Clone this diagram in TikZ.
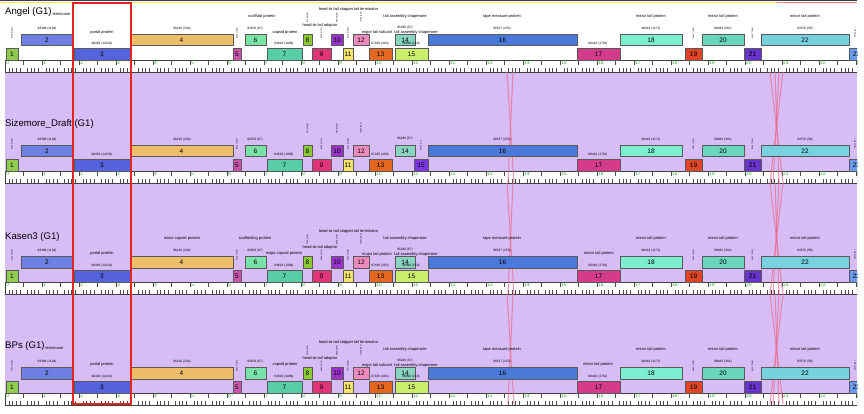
\documentclass[tikz,border=0pt]{standalone}
\usepackage{fontspec}
\setmainfont{Liberation Sans}
\definecolor{c1}{HTML}{8FCB4F}
\definecolor{c2}{HTML}{6E80E3}
\definecolor{c3}{HTML}{5563DD}
\definecolor{c4}{HTML}{EEBD6A}
\definecolor{c5}{HTML}{C955A8}
\definecolor{c6}{HTML}{78E2A8}
\definecolor{c7}{HTML}{57CDA8}
\definecolor{c8}{HTML}{8CCB35}
\definecolor{c9}{HTML}{DF3477}
\definecolor{c10}{HTML}{9A33CC}
\definecolor{c11}{HTML}{F4E26A}
\definecolor{c12}{HTML}{EE8BBE}
\definecolor{c13}{HTML}{E5661F}
\definecolor{c14}{HTML}{8AD5C2}
\definecolor{c15}{HTML}{CBEE6A}
\definecolor{c15s}{HTML}{7B35E2}
\definecolor{c16}{HTML}{4B79D9}
\definecolor{c17}{HTML}{D43C8B}
\definecolor{c18}{HTML}{7BEFCF}
\definecolor{c19}{HTML}{DD4524}
\definecolor{c20}{HTML}{69D6BD}
\definecolor{c21}{HTML}{6634CB}
\definecolor{c22}{HTML}{78D1DF}
\definecolor{c23}{HTML}{6A9AEC}
\definecolor{bgpurple}{HTML}{D8BCF6}
\definecolor{redbox}{HTML}{E3261F}
\definecolor{connpink}{HTML}{E8708F}
\definecolor{rulegreen}{HTML}{3AA43A}
\definecolor{topyellow}{HTML}{F3E45A}
\definecolor{topsalmon}{HTML}{F08A7A}
\tikzset{
  genebox/.style={draw=black!65, line width=0.5pt, inner sep=0pt, minimum height=11.5pt, font=\fontsize{6.5}{7}\selectfont},
  fnlab/.style={inner sep=0pt, font=\fontsize{4}{4.5}\selectfont},
  phlab/.style={inner sep=0pt, font=\fontsize{3.2}{3.6}\selectfont},
  vlab/.style={inner sep=0pt, rotate=90, font=\fontsize{2}{2.4}\selectfont},
  gtitle/.style={anchor=west, inner sep=0pt, font=\fontsize{9.6}{11}\selectfont},
  rulerframe/.style={draw=black!75, fill=white, line width=0.6pt, inner sep=0pt, anchor=north west, minimum width=852pt, minimum height=12pt},
  tickmark/.style={draw=black!70, line width=0.4pt},
  rulernum/.style={anchor=north west, inner sep=0pt, text=rulegreen, font=\fontsize{5}{5.5}\selectfont},
  conn/.style={draw=connpink, line width=1.1pt, opacity=0.7},
  redframe/.style={draw=redbox, line width=2pt},
}
\newcommand{\mygene}[7]{%
  \pgfmathsetmacro\gw{#3-#2}\pgfmathsetmacro\gx{(#2+#3)/2}\pgfmathsetmacro\gy{#4-#5}%
  \node[genebox,fill=#6,minimum width=\gw pt] (#1) at (\gx,\gy) {#7};}
\newcommand{\fl}[4]{\node[fnlab] (#1) at (#2,#3) {#4};}
\newcommand{\pl}[4]{\node[phlab] (#1) at (#2,#3) {#4};}
\newcommand{\vl}[4]{\node[vlab] (#1) at (#2,#3) {#4};}
\newcommand{\myruler}[2]{%
  \node[rulerframe] (#1) at (5,#2) {};
  \foreach \i in {0,...,230}{%
    \pgfmathtruncatemacro\rr{mod(\i,5)}%
    \ifnum\rr=0 \draw[tickmark] (5+3.7*\i,#2) -- (5+3.7*\i,#2+5);%
    \else \draw[tickmark] (5+3.7*\i,#2+12) -- (5+3.7*\i,#2+8);\fi}
  \foreach \k in {0,...,23}{\node[rulernum] (#1n\k) at (5.9+37*\k,#2+0.8) {\k};}
}
\newcommand{\stdgenes}[4]{%
  \mygene{#1g1}{6}{18}{#2}{5.75}{c1}{1}
  \mygene{#1g2}{21}{73}{#2}{20}{c2}{2}
  \mygene{#1g3}{74}{130}{#2}{5.75}{c3}{3}
  \mygene{#1g4}{130}{233}{#2}{20}{c4}{4}
  \mygene{#1g5}{233}{241}{#2}{5.75}{c5}{5}
  \mygene{#1g6}{245}{266}{#2}{20}{c6}{6}
  \mygene{#1g7}{267}{302}{#2}{5.75}{c7}{7}
  \mygene{#1g8}{303}{312}{#2}{20}{c8}{8}
  \mygene{#1g9}{312}{331}{#2}{5.75}{c9}{9}
  \mygene{#1g10}{331}{343}{#2}{20}{c10}{10}
  \mygene{#1g11}{343}{353}{#2}{5.75}{c11}{11}
  \mygene{#1g12}{353}{369}{#2}{20}{c12}{12}
  \mygene{#1g13}{369}{392}{#2}{5.75}{c13}{13}
  \mygene{#1g14}{395}{415}{#2}{20}{c14}{14}
  \mygene{#1g15}{#3}{428}{#2}{5.75}{#4}{15}
  \mygene{#1g16}{428}{577}{#2}{20}{c16}{16}
  \mygene{#1g17}{577}{620}{#2}{5.75}{c17}{17}
  \mygene{#1g18}{620}{682}{#2}{20}{c18}{18}
  \mygene{#1g19}{685}{702}{#2}{5.75}{c19}{19}
  \mygene{#1g20}{702}{744}{#2}{20}{c20}{20}
  \mygene{#1g21}{744}{761}{#2}{5.75}{c21}{21}
  \mygene{#1g22}{761}{849}{#2}{20}{c22}{22}
  \mygene{#1g23}{849}{864}{#2}{5.75}{c23}{23}
}
\newcommand{\stdpham}[2]{%
  \pl{#1p2}{47}{#2-31}{93398 (1194)}
  \pl{#1p3}{102}{#2-16}{98436 (14201)}
  \pl{#1p4}{182}{#2-31}{96216 (204)}
  \pl{#1p6}{255}{#2-31}{93878 (67)}
  \pl{#1p7}{284}{#2-16}{84626 (1099)}
  \pl{#1p13}{380}{#2-16}{87436 (463)}
  \pl{#1p14}{405}{#2-32}{95280 (67)}
  \pl{#1p16}{502}{#2-31}{96527 (253)}
  \pl{#1p17}{598}{#2-16}{98442 (1762)}
  \pl{#1p18}{651}{#2-31}{98443 (1171)}
  \pl{#1p20}{723}{#2-31}{98483 (361)}
  \pl{#1p22}{805}{#2-31}{93576 (58)}
  \vl{#1v1}{12}{#2-27}{97928 (265)}
  \vl{#1v5}{237}{#2-27}{93307 (265)}
  \vl{#1v8}{307.5}{#2-42.5}{97085 (66)}
  \vl{#1v9}{321.5}{#2-27}{94906 (717)}
  \vl{#1v10}{337}{#2-42.5}{96996 (95)}
  \vl{#1v11}{348}{#2-27}{97018 (298)}
  \vl{#1v12}{361}{#2-42.5}{71050 (281)}
  \vl{#1v19}{693.5}{#2-27}{95817 (452)}
  \vl{#1v21}{752.5}{#2-27}{93197 (306)}
  \vl{#1v23}{855}{#2-27}{93116 (61)}
}
\newcommand{\headtail}[2]{%
  \fl{#1f8a}{336}{#2-51}{head-to-tail stopper}
  \fl{#1f8b}{366}{#2-51}{tail terminator}
  \fl{#1f8c}{320}{#2-35}{head-to-tail adaptor}
  \fl{#1f14}{405}{#2-44}{tail assembly chaperone}
  \fl{#1f15}{416}{#2-27.5}{tail assembly chaperone}
  \fl{#1f16}{502}{#2-44}{tape measure protein}
  \fl{#1f18}{651}{#2-44}{minor tail protein}
  \fl{#1f20}{723}{#2-44}{minor tail protein}
  \fl{#1f22}{805}{#2-44}{minor tail protein}
}
\newcommand{\myconn}[3]{%
  \draw[conn] (507,#2) -- (514,#3);
  \draw[conn] (513,#2) -- (508,#3);
  \draw[conn] (770,#2) -- (783,#3);
  \draw[conn] (775,#2) -- (779,#3);
  \draw[conn] (779,#2) -- (773,#3);
  \draw[conn] (783,#2) -- (770,#3);
}
\begin{document}
\begin{tikzpicture}[x=1pt,y=-1pt]
\useasboundingbox (0,0) rectangle (864,414);
\fill[white] (0,0) rectangle (864,414);
\fill[bgpurple] (5,72) rectangle (857,393);
\begin{scope}
\clip (0,0) rectangle (857,414);
\myruler{ra}{60}
\myruler{rs}{171}
\myruler{rk}{282}
\myruler{rb}{393}
\myconn{c1}{72}{183}
\myconn{c2}{183}{294}
\myconn{c3}{294}{404}
\stdgenes{a}{60}{395}{c15}
\stdgenes{s}{171}{414}{c15s}
\stdgenes{k}{282}{395}{c15}
\stdgenes{b}{393}{395}{c15}
\end{scope}
% titles
\node[gtitle] (ta) at (5,12) {Angel (G1)};
\node[gtitle] (ts) at (5,124) {Sizemore\_Draft (G1)};
\node[gtitle] (tk) at (5,237) {Kasen3 (G1)};
\node[gtitle] (tb) at (5,346) {BPs (G1)};
% Angel
\stdpham{a}{60}
\pl{ap15}{411}{44}{96996 (210)}
\node[fnlab, anchor=west] (af2) at ([xshift=0.5pt,yshift=-2pt]ta.east) {terminase};
\fl{af3}{102}{32}{portal protein}
\fl{af6}{262}{16}{scaffold protein}
\fl{af7}{285}{32}{capsid protein}
\fl{af13}{377}{32.5}{major tail subunit}
\headtail{a}{60}
% Sizemore
\stdpham{s}{171}
\vl{sv15}{421}{146}{95291 (14)}
% Kasen3
\stdpham{k}{282}
\pl{kp15}{411}{266}{96996 (210)}
\fl{kf4}{182}{238}{minor capsid protein}
\fl{kf6}{255}{238}{scaffolding protein}
\fl{kf3}{102}{253}{portal protein}
\fl{kf7}{284}{253}{major capsid protein}
\fl{kf13}{377}{254.5}{major tail protein}
\fl{kf17}{599}{253}{minor tail protein}
\headtail{k}{282}
% BPs
\stdpham{b}{393}
\pl{bp15}{411}{377}{96996 (210)}
\node[fnlab, anchor=west] (bf2) at ([xshift=0.5pt,yshift=-2pt]tb.east) {terminase};
\fl{bf3}{102}{364}{portal protein}
\fl{bf7}{285}{364}{capsid protein}
\fl{bf13}{377}{365.5}{major tail subunit}
\fl{bf17}{598}{364}{minor tail protein}
\headtail{b}{393}
% top lines
\draw[black!75, line width=0.8pt] (0,0.4) -- (857,0.4);
\draw[topyellow, line width=1pt] (0,2.6) -- (777,2.6);
\draw[topsalmon, line width=1pt] (777,2.6) -- (857,2.6);
% red frame
\draw[redframe] (73,3) rectangle (131,404);
\end{tikzpicture}
\end{document}
